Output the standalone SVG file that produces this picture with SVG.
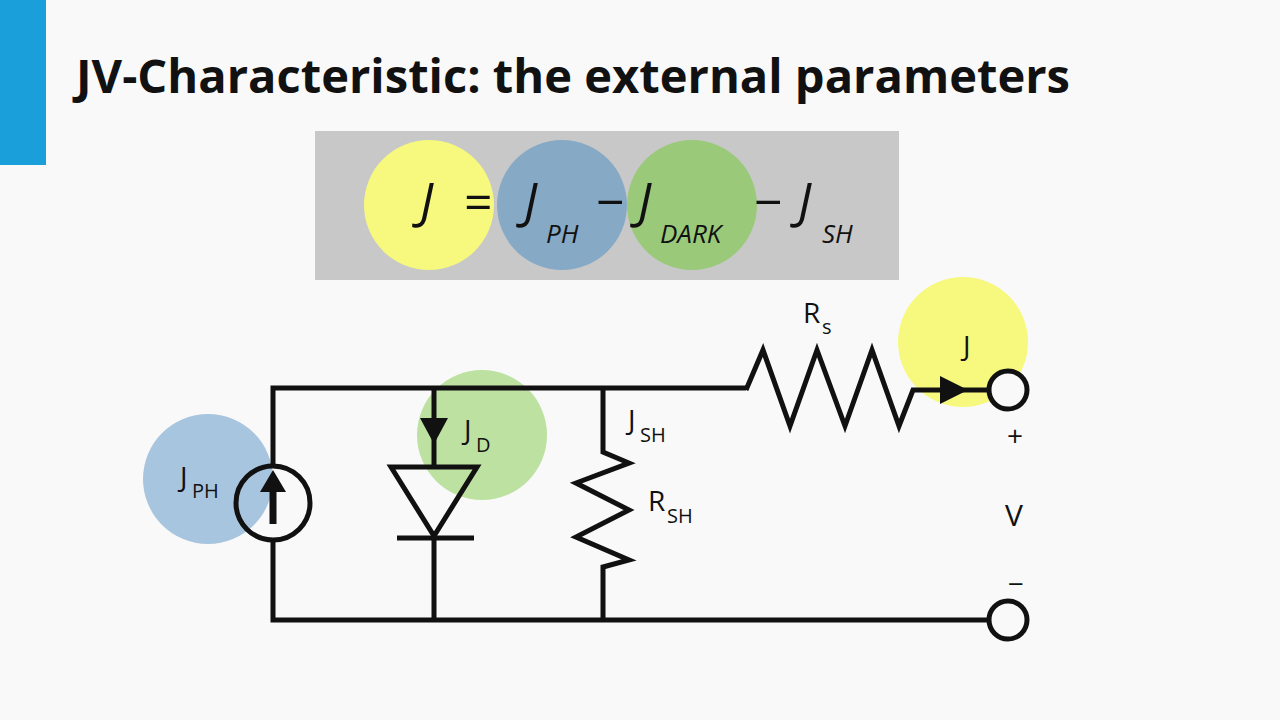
<svg xmlns="http://www.w3.org/2000/svg" width="1280" height="720" viewBox="0 0 1280 720">
<defs><style>
.w{stroke:#111;stroke-width:5;fill:none;stroke-linejoin:miter}
.t{font-family:"Open Sans","Liberation Sans",sans-serif;fill:#111}
.eq{font-family:"Open Sans","Liberation Sans",sans-serif;font-style:italic;fill:#111}
.op{font-family:"Open Sans","Liberation Sans",sans-serif;fill:#111}
</style></defs>
<rect width="1280" height="720" fill="#f9f9f9"/>
<rect x="0" y="0" width="46" height="165" fill="#1a9fdb"/>
<text x="76" y="93" class="t" font-size="46" font-weight="bold" fill="#222" textLength="994" lengthAdjust="spacingAndGlyphs">JV-Characteristic: the external parameters</text>
<g id="equation">
<rect x="315" y="131" width="584" height="149" fill="#c8c8c8"/>
<circle cx="429" cy="205" r="65" fill="#f6f97d"/>
<circle cx="562" cy="205" r="65" fill="#86a9c6"/>
<circle cx="692" cy="205" r="65" fill="#9bc97a"/>
<text x="420" y="218" class="eq" font-size="50">J</text>
<text x="464" y="220" class="op" font-size="50">=</text>
<text x="524" y="218" class="eq" font-size="50">J</text>
<text x="546" y="243" class="eq" font-size="26">PH</text>
<text x="596" y="220" class="op" font-size="50">−</text>
<text x="638" y="218" class="eq" font-size="50">J</text>
<text x="660" y="243" class="eq" font-size="26">DARK</text>
<text x="754" y="220" class="op" font-size="50">−</text>
<text x="798" y="218" class="eq" font-size="50">J</text>
<text x="822" y="243" class="eq" font-size="26">SH</text>
</g>
<g id="highlights">
<circle cx="208" cy="479" r="65" fill="#9fbfdb" opacity="0.9"/>
<circle cx="482" cy="435" r="65" fill="#a8d882" opacity="0.75"/>
<circle cx="963" cy="342" r="65" fill="#f6f97d"/>
</g>
<g id="connectors">
<polyline class="w" points="273,466 273,388 746,388"/>
<polyline class="w" points="273,540 273,620 989,620"/>
<polyline class="w" points="746,390 763,350 790,426 817,350 845,426 872,350 899,426 913,390 990,390"/>
<polygon points="940,376 968,390 940,404" fill="#111"/>
<line class="w" x1="434" y1="388" x2="434" y2="466"/>
<polygon points="420,418 448,418 434,444" fill="#111"/>
<polyline class="w" points="603,388 603,452 629,463 576,483 629,510 576,537 629,560 603,567 603,620"/>
<line class="w" x1="434" y1="538" x2="434" y2="620"/>
</g>
<g id="source">
<circle cx="273" cy="503" r="37" fill="none" stroke="#111" stroke-width="5"/>
<line x1="273" y1="524" x2="273" y2="490" stroke="#111" stroke-width="7"/>
<polygon points="260,492 286,492 273,470" fill="#111"/>
<text x="180" y="487" class="t" font-size="28">J</text>
<text x="192" y="498" class="t" font-size="20">PH</text>
</g>
<g id="diode">
<polygon points="391,467 477,467 434,536" fill="none" stroke="#111" stroke-width="5"/>
<line class="w" x1="397" y1="538" x2="474" y2="538"/>
<text x="464" y="440" class="t" font-size="28">J</text>
<text x="476" y="452" class="t" font-size="20">D</text>
</g>
<g id="shunt">
<text x="628" y="430" class="t" font-size="28">J</text>
<text x="640" y="442" class="t" font-size="20">SH</text>
<text x="648" y="511" class="t" font-size="28">R</text>
<text x="667" y="523" class="t" font-size="20">SH</text>
</g>
<g id="series">
<text x="803" y="323" class="t" font-size="28">R</text>
<text x="822" y="334" class="t" font-size="20">s</text>
<text x="963" y="356" class="t" font-size="28">J</text>
</g>
<g id="terminals">
<circle cx="1008" cy="390" r="19" fill="#f9f9f9" stroke="#111" stroke-width="5"/>
<circle cx="1008" cy="620" r="19" fill="#f9f9f9" stroke="#111" stroke-width="5"/>
<text x="1015" y="446" class="t" font-size="28" text-anchor="middle">+</text>
<text x="1014" y="526" class="t" font-size="30" text-anchor="middle">V</text>
<text x="1016" y="594" class="t" font-size="28" text-anchor="middle">−</text>
</g>
</svg>
